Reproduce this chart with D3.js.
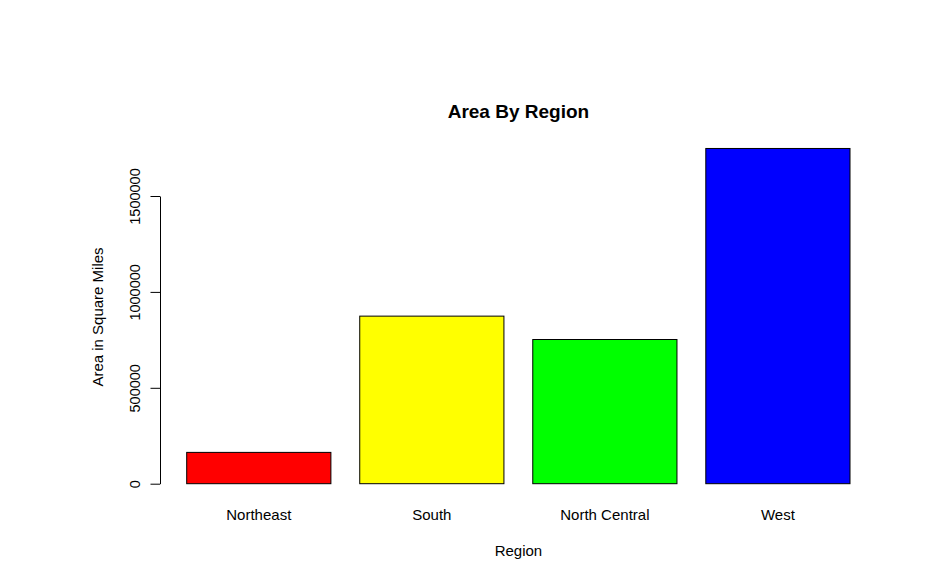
<!DOCTYPE html>
<html>
<head>
<meta charset="utf-8">
<script src="https://cdn.jsdelivr.net/npm/d3@7"></script>
<style>
  html, body { margin: 0; padding: 0; background: #fff; }
  svg { display: block; font-family: "Liberation Sans", Arial, Helvetica, sans-serif; }
</style>
</head>
<body>
<svg id="chart" width="936" height="580"></svg>
<script>
// Data
const regions = ["Northeast", "South", "North Central", "West"];
const areas = [163269, 873682, 751824, 1747805];
const barColors = ["#ff0000", "#ffff00", "#00ff00", "#0000ff"];
const yTicks = [0, 500000, 1000000, 1500000];
const chartTitle = "Area By Region";
const xTitle = "Region";
const yTitle = "Area in Square Miles";

const svg = d3.select("#chart");

const x = d3.scaleBand()
  .domain(regions)
  .range([186.7, 850])
  .paddingInner(1 / 6)
  .paddingOuter(0);

const y = d3.scaleLinear()
  .domain([0, 1500000])
  .range([483.7, 196]);

const plotCenter = 518.4;

// Bars
svg.append("g")
  .selectAll("rect")
  .data(regions)
  .join("rect")
  .attr("x", d => x(d))
  .attr("y", (d, i) => y(areas[i]))
  .attr("width", x.bandwidth())
  .attr("height", (d, i) => y(0) - y(areas[i]))
  .attr("fill", (d, i) => barColors[i])
  .attr("stroke", "#000")
  .attr("stroke-width", 1);

// Y axis
const yAxis = svg.append("g")
  .attr("transform", "translate(160,0)")
  .call(d3.axisLeft(y)
    .tickValues(yTicks)
    .tickFormat(d3.format("d"))
    .tickSize(9.5)
    .tickSizeOuter(0));
yAxis.select(".domain").attr("stroke", "#000");
yAxis.selectAll(".tick line").attr("stroke", "#000");
yAxis.selectAll(".tick text")
  .attr("transform", "rotate(-90)")
  .attr("x", 0)
  .attr("y", -20)
  .attr("dy", 0)
  .attr("text-anchor", "middle")
  .attr("fill", "#000")
  .style("font-size", "14.5px")
  .style("font-family", "'Liberation Sans', Arial, sans-serif");

// X category labels
svg.append("g")
  .selectAll("text")
  .data(regions)
  .join("text")
  .attr("x", d => x(d) + x.bandwidth() / 2)
  .attr("y", 520)
  .attr("text-anchor", "middle")
  .style("font-size", "15px")
  .text(d => d);

// Title
svg.append("text")
  .attr("x", plotCenter)
  .attr("y", 118)
  .attr("text-anchor", "middle")
  .style("font-size", "19px")
  .style("font-weight", "bold")
  .text(chartTitle);

// X title
svg.append("text")
  .attr("x", plotCenter)
  .attr("y", 556)
  .attr("text-anchor", "middle")
  .style("font-size", "15px")
  .text(xTitle);

// Y title
svg.append("text")
  .attr("transform", "translate(103,317) rotate(-90)")
  .attr("text-anchor", "middle")
  .style("font-size", "15px")
  .text(yTitle);
</script>
</body>
</html>
